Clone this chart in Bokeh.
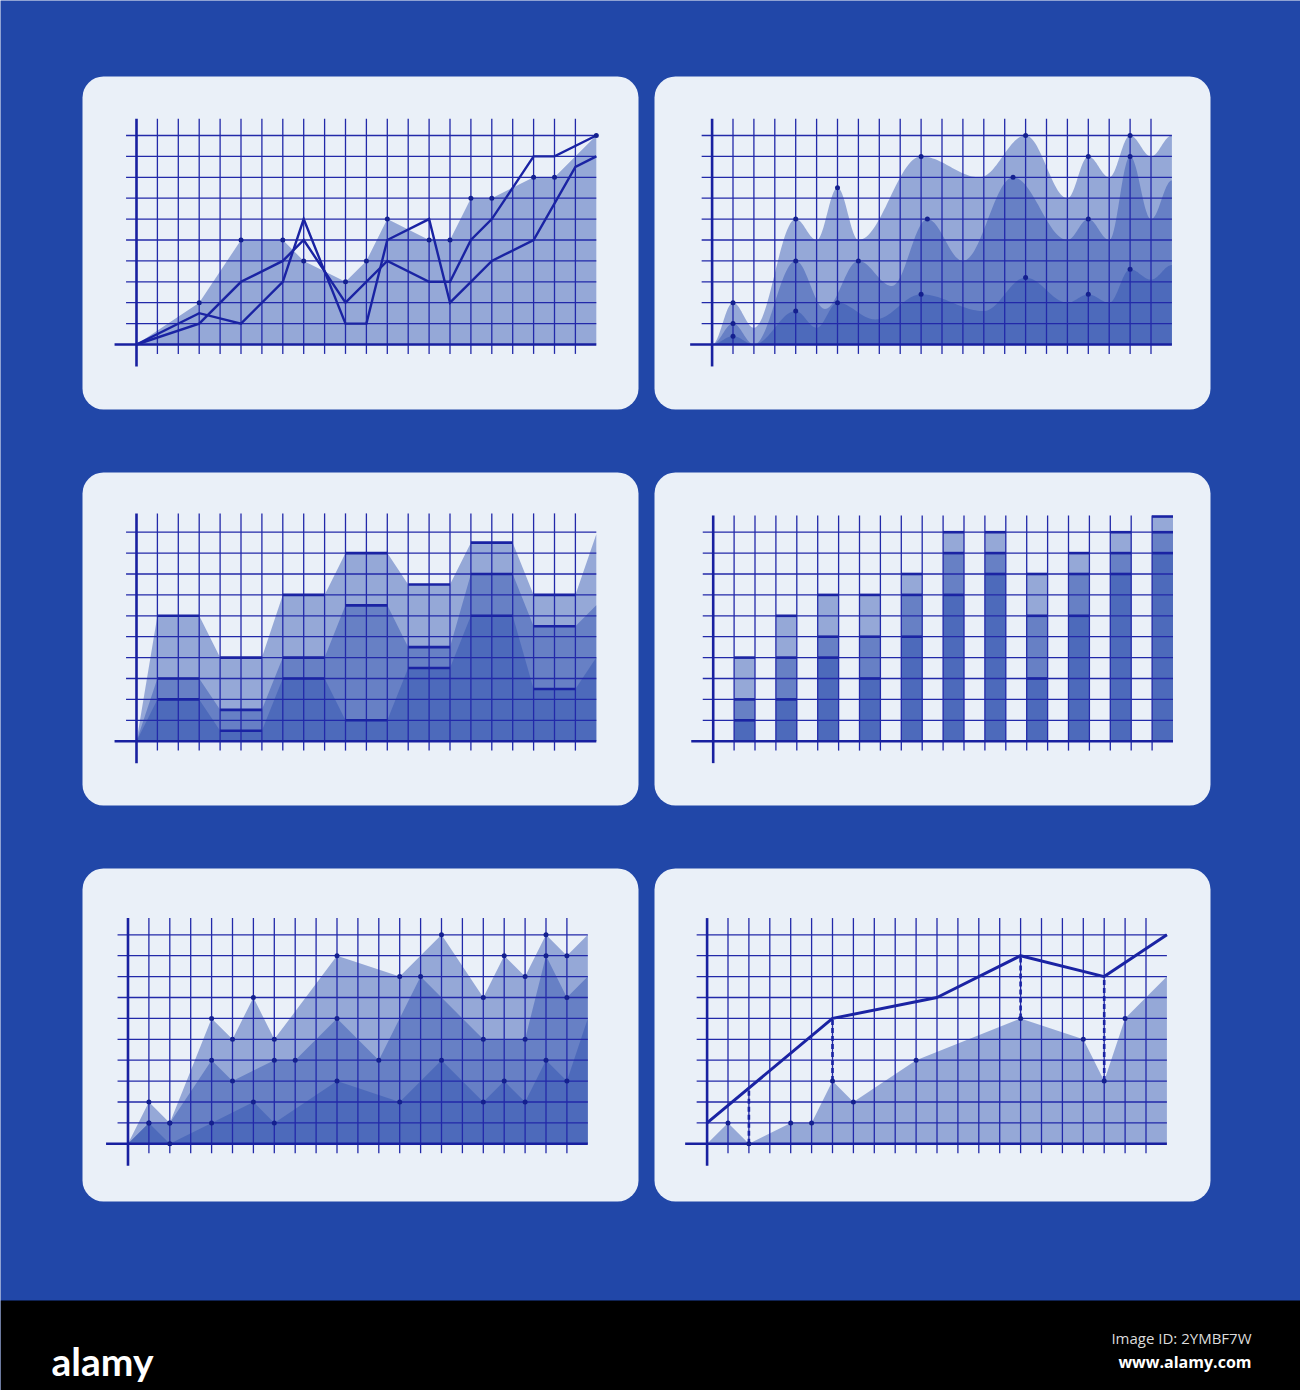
import numpy as np
from bokeh.plotting import figure
from bokeh.models import Range1d, BoxAnnotation
from bokeh.embed import file_html
from bokeh.resources import INLINE
from bokeh.core.properties import value

# ---------------- shared grid ticks ----------------
x_ticks = list(range(0, 22))   # vertical grid lines (0 = axis)
y_ticks = list(range(0, 11))   # horizontal grid lines (0 = axis)
x_max = 22

# ---------------- chart 1: area + two lines ----------------
c1_area_x = [0, 3, 5, 7, 8, 10, 11, 12, 14, 15, 16, 17, 19, 20, 22]
c1_area_y = [0, 2, 5, 5, 4, 3, 4, 6, 5, 5, 7, 7, 8, 8, 10]
c1_lineA_x = [0, 3, 5, 7, 8, 10, 12, 14, 15, 16, 17, 19, 20, 22]
c1_lineA_y = [0, 1, 3, 4, 5, 2, 4, 3, 3, 5, 6, 9, 9, 10]
c1_lineB_x = [0, 3, 5, 7, 8, 10, 11, 12, 14, 15, 16, 17, 19, 21, 22]
c1_lineB_y = [0, 1.5, 1, 3, 6, 1, 1, 5, 6, 2, 3, 4, 5, 8.5, 9]

# ---------------- chart 2: smooth overlapping waves (extrema) ----------------
c2_back_x = [0, 1, 2, 4, 5, 6, 7, 10, 12.8, 15, 17, 18, 19, 20, 21, 22]
c2_back_y = [0, 2, 0.8, 6, 5, 7.5, 5, 9, 8, 10, 7, 9, 8, 10, 9, 10]
c2_mid_x = [0, 1, 2, 4, 5.4, 7, 8.6, 10.3, 12, 14.4, 17, 18, 19, 20, 21, 22]
c2_mid_y = [0, 1, 0, 4, 1.7, 4, 2.8, 6, 4, 8, 5, 6, 5, 9, 6, 7.85]
c2_front_x = [0, 1, 2, 4, 5, 6, 7.8, 10, 13, 15, 17, 18, 19, 20, 21, 22]
c2_front_y = [0, 0.4, 0, 1.6, 0.8, 2, 1.2, 2.4, 1.6, 3.2, 2, 2.4, 2, 3.6, 3.1, 3.8]

# ---------------- chart 3: plateau layers ----------------
c3_back = [6, 4, 7, 9, 7.5, 9.5, 7]
c3_back_end = 9.9
c3_mid = [3, 1.5, 4, 6.5, 4.5, 8, 5.5]
c3_mid_end = 6.5
c3_front = [2, 0.5, 3, 1, 3.5, 6, 2.5]
c3_front_end = 4

# ---------------- chart 4: stacked bars (cumulative tops) ----------------
c4_dark = [1, 2, 4, 3, 5, 7, 8, 3, 6, 8, 9]
c4_mid = [2, 4, 5, 5, 7, 9, 9, 6, 8, 9, 10]
c4_light = [4, 6, 7, 7, 8, 10, 10, 8, 9, 10, 10.75]

# ---------------- chart 5: angular overlapping areas ----------------
c5_back_x = [0, 1, 2, 4, 5, 6, 7, 10, 13, 15, 17, 18, 19, 20, 21, 22]
c5_back_y = [0, 2, 1, 6, 5, 7, 5, 9, 8, 10, 7, 9, 8, 10, 9, 10]
c5_mid_x = [0, 1, 2, 4, 5, 7, 8, 10, 12, 14, 17, 19, 20, 21, 22]
c5_mid_y = [0, 1, 1, 4, 3, 4, 4, 6, 4, 8, 5, 5, 9, 7, 8]
c5_front_x = [0, 1, 2, 4, 6, 7, 10, 13, 15, 17, 18, 19, 20, 21, 22]
c5_front_y = [0, 1, 0, 1, 2, 1, 3, 2, 4, 2, 3, 2, 4, 3, 6]

# ---------------- chart 6: area + trend line with drop lines ----------------
c6_area_x = [0, 1, 2, 4, 5, 6, 7, 10, 15, 18, 19, 20, 22]
c6_area_y = [0, 1, 0, 1, 1, 3, 2, 4, 6, 5, 3, 6, 8]
c6_line_x = [0, 6, 11, 15, 19, 22]
c6_line_y = [1, 6, 7, 9, 8, 10]
c6_drop_x = [2, 6, 15, 19]

# ---------------- styles ----------------
BG = "#2147a8"
PANEL = "#eaf0f8"
FILL = "#2e50af"
FA = 0.45
GRID = "#2229a9"
AXIS = "#1820a0"
LINE = "#1a23a3"
DOT = "#14208f"

W, H, M = 1300, 1390, 0
U = 20.9
cards = [(82, 76), (654, 76), (82, 472), (654, 472), (82, 868), (654, 868)]
CARD_W, CARD_H = 556, 333
origins = [(136, 344), (711.6, 344), (136, 740.7), (712.7, 740.7),
           (127.5, 1143.3), (706.6, 1143.3)]

xr, yr = {}, {}
for i, (ox, oy) in enumerate(origins):
    xs = (M - ox) / U
    ys = (oy - (M + H)) / U
    xr[f"x{i}"] = Range1d(xs, xs + W / U)
    yr[f"y{i}"] = Range1d(ys, ys + H / U)

p = figure(width=W, height=H, x_range=Range1d(M, M + W), y_range=Range1d(M + H, M),
           output_backend="svg", toolbar_location=None, min_border=0,
           extra_x_ranges=xr, extra_y_ranges=yr)
p.axis.visible = False
p.grid.visible = False
p.outline_line_color = None
p.background_fill_color = BG
p.border_fill_color = BG

# cards
for (cx, cy) in cards:
    p.add_layout(BoxAnnotation(left=cx, right=cx + CARD_W, top=cy, bottom=cy + CARD_H,
                               fill_color=PANEL, fill_alpha=1, line_color=None,
                               border_radius=21, level="underlay"))
# bottom black band
p.add_layout(BoxAnnotation(left=M, right=M + W, top=1300, bottom=M + H,
                           fill_color="black", fill_alpha=1, line_color=None, level="underlay"))


def kw(i):
    return dict(x_range_name=f"x{i}", y_range_name=f"y{i}")


def grid(i, top=10.8):
    vx = x_ticks[1:]
    p.segment(x0=vx, y0=-0.45, x1=vx, y1=top, line_color=GRID, line_width=1.3, **kw(i))
    hy = y_ticks[1:]
    p.segment(x0=-0.5, y0=hy, x1=x_max, y1=hy, line_color=GRID, line_width=1.3, **kw(i))
    p.segment(x0=[-1.05, 0], y0=[0, -1.05], x1=[x_max, 0], y1=[0, top],
              line_color=AXIS, line_width=2.6, **kw(i))


def area(i, xs, ys):
    p.varea(x=xs, y1=0, y2=ys, fill_color=FILL, fill_alpha=FA, **kw(i))


def dots(i, xs, ys):
    p.scatter(x=xs, y=ys, size=5, marker="circle", fill_color=DOT, line_color=None, **kw(i))


def smooth(xs, ys, n=30):
    X, Y = [], []
    for a in range(len(xs) - 1):
        s = np.linspace(0, 1, n, endpoint=False)
        X.extend(xs[a] + (xs[a + 1] - xs[a]) * s)
        Y.extend(ys[a] + (ys[a + 1] - ys[a]) * (1 - np.cos(np.pi * s)) / 2)
    X.append(xs[-1]); Y.append(ys[-1])
    return X, Y


def peaks(xs, ys):
    px, py = [], []
    for a in range(1, len(xs) - 1):
        if ys[a] > ys[a - 1] and ys[a] > ys[a + 1]:
            px.append(xs[a]); py.append(ys[a])
    return px, py


# ---- chart 1 ----
area(0, c1_area_x, c1_area_y)
grid(0)
p.line(c1_lineA_x, c1_lineA_y, line_color=LINE, line_width=2.4, line_join="miter", **kw(0))
p.line(c1_lineB_x, c1_lineB_y, line_color=LINE, line_width=2.4, line_join="miter", **kw(0))
dots(0, c1_area_x[1:], c1_area_y[1:])

# ---- chart 2 ----
for xs_, ys_ in [(c2_back_x, c2_back_y), (c2_mid_x, c2_mid_y), (c2_front_x, c2_front_y)]:
    sx, sy = smooth(xs_, ys_)
    area(1, sx, sy)
grid(1)
for xs_, ys_ in [(c2_back_x, c2_back_y), (c2_mid_x, c2_mid_y), (c2_front_x, c2_front_y)]:
    px_, py_ = peaks(xs_, ys_)
    dots(1, px_, py_)

# ---- chart 3 ----
def plateau_series(vals, end):
    X, Y = [0], [0]
    for k, v in enumerate(vals):
        X += [3 * k + 1, 3 * k + 3]
        Y += [v, v]
    X.append(x_max); Y.append(end)
    return X, Y

for vals, end in [(c3_back, c3_back_end), (c3_mid, c3_mid_end), (c3_front, c3_front_end)]:
    sx, sy = plateau_series(vals, end)
    area(2, sx, sy)
grid(2, top=10.9)
for vals in [c3_back, c3_mid, c3_front]:
    k = np.arange(len(vals))
    p.segment(x0=3 * k + 1, y0=vals, x1=3 * k + 3, y1=vals, line_color=LINE,
              line_width=2.6, **kw(2))

# ---- chart 4 ----
bx = np.arange(len(c4_dark)) * 2 + 1.5
for tops in [c4_light, c4_mid, c4_dark]:
    p.vbar(x=bx, width=1, bottom=0, top=tops, fill_color=FILL, fill_alpha=FA,
           line_color=None, **kw(3))
grid(3)
for tops in [c4_light, c4_mid, c4_dark]:
    p.segment(x0=bx - 0.5, y0=tops, x1=bx + 0.5, y1=tops, line_color=LINE,
              line_width=2.6, **kw(3))

# ---- chart 5 ----
for xs_, ys_ in [(c5_back_x, c5_back_y), (c5_mid_x, c5_mid_y), (c5_front_x, c5_front_y)]:
    area(4, xs_, ys_)
grid(4)
for xs_, ys_ in [(c5_back_x, c5_back_y), (c5_mid_x, c5_mid_y), (c5_front_x, c5_front_y)]:
    dots(4, xs_[1:-1], ys_[1:-1])

# ---- chart 6 ----
area(5, c6_area_x, c6_area_y)
grid(5)
top_y = np.interp(c6_drop_x, c6_line_x, c6_line_y)
bot_y = np.interp(c6_drop_x, c6_area_x, c6_area_y)
p.segment(x0=c6_drop_x, y0=bot_y, x1=c6_drop_x, y1=top_y, line_color=LINE,
          line_width=2.6, line_dash="5 3", **kw(5))
p.line(c6_line_x, c6_line_y, line_color=LINE, line_width=3, **kw(5))
dots(5, c6_area_x[1:-1], c6_area_y[1:-1])

# ---- bottom band texts ----
p.text(x=[51], y=[1360], text=["alamy"], text_font=value("Lato"),
       text_font_style="bold", text_font_size="39px", text_color="white",
       text_baseline="alphabetic", text_align="left")
p.text(x=[1251], y=[1337.5], text=["Image ID: 2YMBF7W"], text_font=value("Open Sans"),
       text_font_size="15px", text_color="#dcdcdc", text_baseline="alphabetic",
       text_align="right")
p.text(x=[1251], y=[1361], text=["www.alamy.com"], text_font=value("Open Sans"),
       text_font_style="bold", text_font_size="16px", text_color="white",
       text_baseline="alphabetic", text_align="right")

open("out.html", "w").write(file_html(p, INLINE))
